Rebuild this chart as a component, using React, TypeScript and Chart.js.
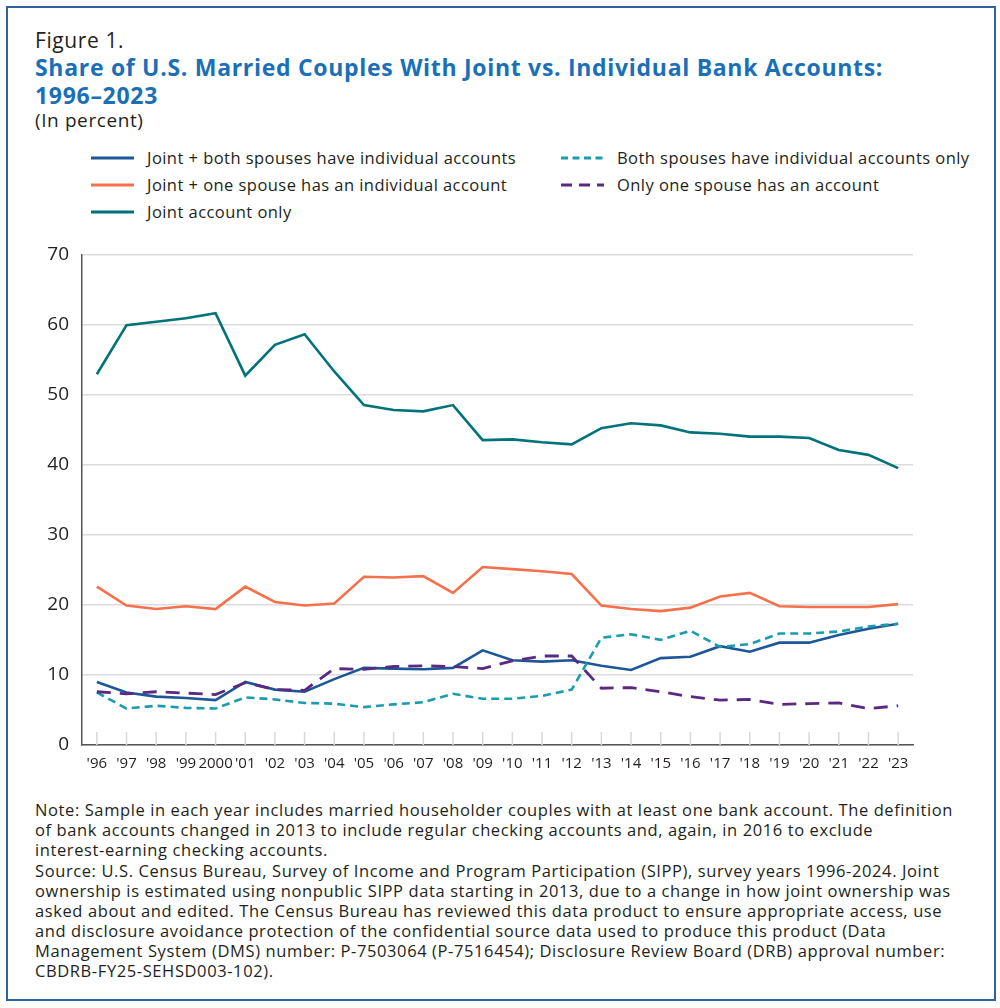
import { useEffect, useRef } from 'react'
import { Chart, registerables } from 'chart.js'

Chart.register(...registerables)

const FONT = '"Open Sans", "DejaVu Sans", sans-serif'

const years = [
  "'96", "'97", "'98", "'99", '2000', "'01", "'02", "'03", "'04", "'05", "'06", "'07", "'08", "'09",
  "'10", "'11", "'12", "'13", "'14", "'15", "'16", "'17", "'18", "'19", "'20", "'21", "'22", "'23",
]

// Joint + both spouses have individual accounts
const jointBoth = [
  9.0, 7.5, 6.9, 6.7, 6.4, 9.0, 7.9, 7.6, 9.4, 11.0, 10.9, 10.8, 11.0, 13.5,
  12.1, 11.9, 12.1, 11.3, 10.7, 12.4, 12.6, 14.1, 13.3, 14.6, 14.6, 15.7, 16.6, 17.3,
]
// Joint + one spouse has an individual account
const jointOne = [
  22.6, 19.9, 19.4, 19.8, 19.4, 22.6, 20.4, 19.9, 20.2, 24.0, 23.9, 24.1, 21.7, 25.4,
  25.1, 24.8, 24.4, 19.9, 19.4, 19.1, 19.6, 21.2, 21.7, 19.8, 19.7, 19.7, 19.7, 20.1,
]
// Joint account only
const jointOnly = [
  52.9, 59.9, 60.4, 60.9, 61.6, 52.7, 57.1, 58.6, 53.3, 48.5, 47.8, 47.6, 48.5, 43.5,
  43.6, 43.2, 42.9, 45.2, 45.9, 45.6, 44.6, 44.4, 44.0, 44.0, 43.8, 42.1, 41.4, 39.5,
]
// Both spouses have individual accounts only
const bothIndividual = [
  7.5, 5.2, 5.6, 5.3, 5.2, 6.8, 6.5, 6.0, 5.9, 5.4, 5.8, 6.1, 7.3, 6.6,
  6.6, 7.0, 7.9, 15.3, 15.8, 15.0, 16.3, 14.0, 14.4, 15.9, 15.9, 16.2, 16.9, 17.3,
]
// Only one spouse has an account
const oneSpouse = [
  7.6, 7.3, 7.6, 7.4, 7.2, 8.9, 7.9, 7.8, 10.9, 10.8, 11.2, 11.3, 11.2, 10.9,
  12.0, 12.7, 12.7, 8.1, 8.2, 7.6, 6.9, 6.4, 6.5, 5.8, 5.9, 6.0, 5.2, 5.6,
]

const C_BLUE = '#1d5798'
const C_ORANGE = '#f5714b'
const C_TEAL = '#00737a'
const C_CYAN = '#1a9cad'
const C_PURPLE = '#5a2a82'

const noteLines = [
  'Note: Sample in each year includes married householder couples with at least one bank account. The definition',
  'of bank accounts changed in 2013 to include regular checking accounts and, again, in 2016 to exclude',
  'interest-earning checking accounts.',
]
const sourceLines = [
  'Source: U.S. Census Bureau, Survey of Income and Program Participation (SIPP), survey years 1996-2024. Joint',
  'ownership is estimated using nonpublic SIPP data starting in 2013, due to a change in how joint ownership was',
  'asked about and edited. The Census Bureau has reviewed this data product to ensure appropriate access, use',
  'and disclosure avoidance protection of the confidential source data used to produce this product (Data',
  'Management System (DMS) number: P-7503064 (P-7516454); Disclosure Review Board (DRB) approval number:',
  'CBDRB-FY25-SEHSD003-102).',
]

// short upward tick marks on the x axis
const innerTicks = {
  id: 'innerTicks',
  beforeDatasetsDraw(chart: any) {
    const { ctx, chartArea, scales } = chart
    const x = scales.x
    ctx.save()
    ctx.strokeStyle = '#d8d8d8'
    ctx.lineWidth = 1.5
    x.ticks.forEach((_: any, i: number) => {
      const px = x.getPixelForTick(i)
      ctx.beginPath()
      ctx.moveTo(px, chartArea.bottom)
      ctx.lineTo(px, chartArea.bottom - 13)
      ctx.stroke()
    })
    ctx.restore()
  },
}

function LegendItem({ color, dash, label }: { color: string; dash?: string; label: string }) {
  return (
    <div style={{ display: 'flex', alignItems: 'center', height: 27 }}>
      <svg width={43} height={6} style={{ marginRight: 13 }}>
        <line x1={0} y1={3} x2={43} y2={3} stroke={color} strokeWidth={3} strokeDasharray={dash} />
      </svg>
      <span>{label}</span>
    </div>
  )
}

export default function App() {
  const canvasRef = useRef<HTMLCanvasElement>(null)
  const chartRef = useRef<Chart | null>(null)

  useEffect(() => {
    if (!canvasRef.current) return
    if (chartRef.current) chartRef.current.destroy()

    const line = (data: number[], color: string, dash: number[] = [], width = 2.6) => ({
      data,
      borderColor: color,
      borderWidth: width,
      borderDash: dash,
      pointRadius: 0,
      tension: 0,
      fill: false,
    })

    chartRef.current = new Chart(canvasRef.current, {
      type: 'line',
      data: {
        labels: years,
        datasets: [
          { label: 'Only one spouse has an account', ...line(oneSpouse, C_PURPLE, [14, 9], 2.8) },
          { label: 'Both spouses have individual accounts only', ...line(bothIndividual, C_CYAN, [8, 5]) },
          { label: 'Joint account only', ...line(jointOnly, C_TEAL) },
          { label: 'Joint + one spouse has an individual account', ...line(jointOne, C_ORANGE) },
          { label: 'Joint + both spouses have individual accounts', ...line(jointBoth, C_BLUE) },
        ],
      },
      options: {
        animation: false,
        responsive: true,
        maintainAspectRatio: false,
        layout: { padding: { top: 4, right: 17, left: 0, bottom: 0 } },
        plugins: { legend: { display: false }, tooltip: { enabled: false } },
        scales: {
          x: {
            offset: true,
            grid: { display: false, drawTicks: false },
            border: { display: true, color: '#555', width: 1.5 },
            ticks: {
              color: '#231f20',
              font: { family: FONT, size: 15 },
              padding: 10,
              maxRotation: 0,
              autoSkip: false,
            },
            afterFit: (s: any) => { s.height = 40 },
          },
          y: {
            min: 0,
            max: 70,
            grid: { color: '#dcdcdc', lineWidth: 1.5, drawTicks: false },
            border: { display: true, color: '#555', width: 1.5 },
            ticks: {
              stepSize: 10,
              color: '#231f20',
              font: { family: FONT, size: 19 },
              padding: 13,
            },
            afterFit: (s: any) => { s.width = 52 },
          },
        },
      },
      plugins: [innerTicks],
    })

    return () => { chartRef.current?.destroy() }
  }, [])

  const textColor = '#231f20'

  return (
    <div style={{ position: 'absolute', left: 0, top: 0, width: 1000, height: 1008, background: '#fff', fontFamily: FONT, color: textColor }}>
      {/* Frame */}
      <div style={{ position: 'absolute', left: 6, top: 6, width: 990, height: 995, border: '2px solid #2f62a3', boxSizing: 'border-box' }} />

      {/* Heading */}
      <div style={{ position: 'absolute', left: 35, top: 28, fontSize: 21, lineHeight: '24px', letterSpacing: 0.6 }}>Figure 1.</div>
      <div style={{ position: 'absolute', left: 35, top: 53, fontSize: 23, lineHeight: '28px', fontWeight: 700, color: '#1a6fb8', letterSpacing: 0.7 }}>
        Share of U.S. Married Couples With Joint vs. Individual Bank Accounts:
        <br />
        1996–2023
      </div>
      <div style={{ position: 'absolute', left: 35, top: 108, fontSize: 19, lineHeight: '24px', letterSpacing: 0.6 }}>(In percent)</div>

      {/* Legend */}
      <div style={{ position: 'absolute', left: 91, top: 144, fontSize: 16.5, letterSpacing: 0.45 }}>
        <LegendItem color={C_BLUE} label="Joint + both spouses have individual accounts" />
        <LegendItem color={C_ORANGE} label="Joint + one spouse has an individual account" />
        <LegendItem color={C_TEAL} label="Joint account only" />
      </div>
      <div style={{ position: 'absolute', left: 561, top: 144, fontSize: 16.5, letterSpacing: 0.45 }}>
        <LegendItem color={C_CYAN} dash="7 4.5" label="Both spouses have individual accounts only" />
        <LegendItem color={C_PURPLE} dash="11 7" label="Only one spouse has an account" />
      </div>

      {/* Chart */}
      <div style={{ position: 'absolute', left: 30, top: 230, width: 900, height: 555 }}>
        <canvas ref={canvasRef} />
      </div>

      {/* Notes */}
      <div style={{ position: 'absolute', left: 35, top: 800, fontSize: 16.5, lineHeight: '20px', letterSpacing: 0.6, whiteSpace: 'nowrap' }}>
        {noteLines.map((l, i) => <div key={i}>{l}</div>)}
        <div style={{ height: 1 }} />
        {sourceLines.map((l, i) => <div key={i}>{l}</div>)}
      </div>
    </div>
  )
}
